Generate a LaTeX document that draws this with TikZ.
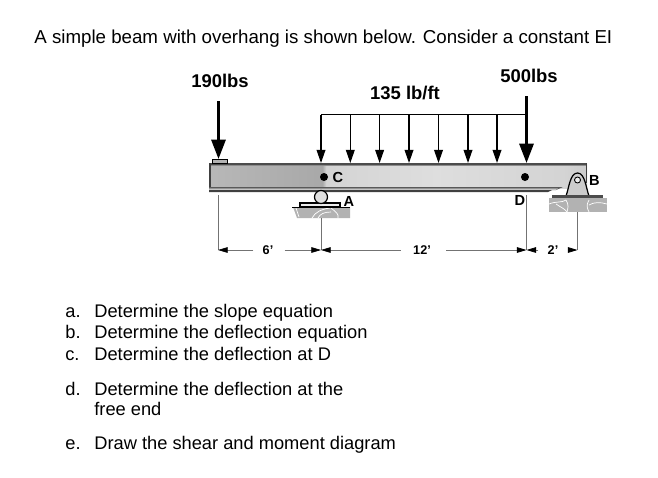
\documentclass[tikz,border=0pt]{standalone}
\usepackage{fontspec}
\setmainfont{Liberation Sans}
\usetikzlibrary{arrows.meta}

\pgfdeclarehorizontalshading{beamshade}{100bp}{
	color(0bp)=(black!30); color(15bp)=(black!24); color(30bp)=(black!30);
	color(40bp)=(black!34); color(40.5bp)=(black!17); color(55bp)=(black!13);
	color(72bp)=(black!17); color(85bp)=(black!30); color(100bp)=(black!50)}

\tikzset{
	load/.style={-{Triangle[width=5pt,length=7.5pt]},line width=0.75pt},
	bigload/.style={-{Triangle[width=8pt,length=11pt]},line width=1.6pt},
	dimline/.style={black!55,line width=0.4pt},
	dimarrow/.style={black!55,line width=0.4pt,-{Triangle[black,width=3.2pt,length=5.5pt]}},
	dimlabel/.style={font=\fontsize{7.2}{8}\selectfont\bfseries,inner sep=0pt},
	forcelabel/.style={font=\fontsize{10.5}{12}\selectfont\bfseries,inner sep=0pt},
	pointlabel/.style={font=\fontsize{8.3}{9}\selectfont\bfseries,inner sep=0pt},
	titleline/.style={font=\fontsize{10.65}{12}\selectfont,anchor=base west,inner sep=0pt},
	textline/.style={font=\fontsize{10.4}{12}\selectfont,anchor=base west,inner sep=0pt},
	ground/.style={fill=black!30,draw=none},
	crack/.style={white,line width=0.4pt}
}

\begin{document}
\begin{tikzpicture}[x=0.02cm,y=-0.02cm]
	\useasboundingbox (0,0) rectangle (658,477);

	%title
	\node[titleline] (title) at (34,43) {A simple beam with overhang is shown below. Consider a constant EI};

	%beam
	\shade[shading=beamshade] (209,164) rectangle (587,188);
	\fill[black!70] (209,163) rectangle (587,164.5);
	\fill[black!45] (209,164.5) rectangle (587,166);
	\fill[black!75] (209,163) rectangle (210.5,192);
	\fill[black!75] (585.8,163) rectangle (587,183);
	\fill[black!65] (209,187) -- (563,187) -- (556,190) -- (209,190) -- cycle;
	\fill[black!75] (209,190) -- (552,190) -- (548,192) -- (209,192) -- cycle;
	\fill[white] (209,188.5) -- (558,188.5) -- (556,189.5) -- (209,189.5) -- cycle;

	%ground at A
	\fill[ground] (293,207) -- (350,207) -- (350,218) -- (297,218) -- cycle;
	\draw[crack] (296,208) -- (299,217);
	\draw[crack] (312,218) .. controls (315,212) and (322,209) .. (330,208);
	\draw[crack] (318,218) .. controls (320,214) and (324,212) .. (331,212);
	\draw[crack] (331,208) .. controls (336,212) and (339,214) .. (338,218);

	%ground at B
	\fill[ground] (549,198) -- (607,198) -- (607,212) -- (549,212) -- cycle;
	\draw[crack] (549,204) .. controls (556,201) and (562,203) .. (566,200);
	\draw[crack] (556,204) .. controls (560,207) and (564,208) .. (567,212);
	\draw[crack] (566,200) .. controls (569,205) and (568,208) .. (567,212);
	\draw[crack] (589,200) .. controls (586,205) and (587,208) .. (589,212);
	\draw[crack] (589,205) .. controls (594,202) and (600,202) .. (607,204);

	%support A
	\draw[line width=0.6pt,fill=black!8] (300,207) rectangle (340,203);
	\draw[black,line width=0.9pt] (292,207.5) -- (350,207.5);
	\draw[line width=0.7pt,fill=black!12] (321,197) circle (6.5);
	\node[pointlabel] (labelA) at (349,201) {A};

	%support B
	\draw[line width=0.7pt,fill=black!20] (566,196) .. controls (569,188) and (570,173) .. (577.5,173) .. controls (585,173) and (586,188) .. (589,196) -- cycle;
	\draw[line width=0.5pt,fill=black!8] (577.5,180) circle (3);
	\fill[black!70] (552,195) rectangle (603,198);
	\node[pointlabel] (labelB) at (594.5,180) {B};

	%points
	\fill (324,177) circle (4);
	\node[pointlabel] (labelC) at (338,177.5) {C};
	\fill (525,177) circle (4);
	\node[pointlabel] (labelD) at (520,200) {D};

	%plate under the point load
	\draw[line width=0.5pt,fill=black!30] (212,163) rectangle (227,159.5);

	%loads
	\node[forcelabel] (load1) at (220,80.5) {190lbs};
	\node[forcelabel] (load2) at (529,76) {500lbs};
	\node[forcelabel] (dist) at (405,93) {135 lb/ft};
	\coordinate (top1) at (218.5,101);
	\coordinate (tip1) at (218.5,159);
	\coordinate (top2) at (526.5,96);
	\coordinate (tip2) at (526.5,163);
	\draw[bigload] (top1) -- (tip1);
	\draw[bigload] (top2) -- (tip2);
	\draw[line width=0.75pt] (321,114.5) -- (526.5,114.5);
	\foreach \x in {321,350.3,379.6,409,438.5,468,497}
		\draw[load] (\x,114.5) -- (\x,163);

	%dimensions
	\node[dimlabel] (dimA) at (268,250) {6'};
	\node[dimlabel] (dimB) at (422,250) {12'};
	\node[dimlabel] (dimC) at (553,250) {2'};
	\coordinate (ptE) at (218,250);
	\coordinate (ptA) at (321,250);
	\coordinate (ptD) at (526.5,250);
	\coordinate (ptB) at (577.5,250);
	\draw[dimline] (218,195) -- (ptE);
	\draw[dimline] (321,218) -- (ptA);
	\draw[dimline] (526.5,195) -- (ptD);
	\draw[dimline] (577.5,212) -- (ptB);
	\draw[dimarrow] (dimA.west) ++(-9,0) -- (ptE);
	\draw[dimarrow] (dimA.east) ++(11,0) -- (ptA);
	\draw[dimarrow] (dimB.west) ++(-12,0) -- (ptA);
	\draw[dimarrow] (dimB.east) ++(15,0) -- (ptD);
	\draw[dimarrow] (dimC.west) ++(-9,0) -- (ptD);
	\draw[dimarrow] (dimC.east) ++(10,0) -- (ptB);

	%questions
	\node[textline] (qa) at (65,317) {a.};
	\node[textline] (ta) at (94,317) {Determine the slope equation};
	\node[textline] (qb) at (65,338) {b.};
	\node[textline] (tb) at (94,338) {Determine the deflection equation};
	\node[textline] (qc) at (65,360) {c.};
	\node[textline] (tc) at (94,360) {Determine the deflection at D};
	\node[textline] (qd) at (65,395) {d.};
	\node[textline] (td) at (94,395) {Determine the deflection at the};
	\node[textline] (te) at (94,415) {free end};
	\node[textline] (qe) at (65,449) {e.};
	\node[textline] (tf) at (94,449) {Draw the shear and moment diagram};
\end{tikzpicture}
\end{document}
